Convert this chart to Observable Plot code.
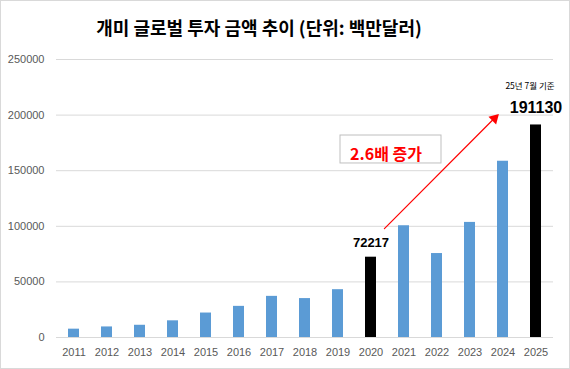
<!DOCTYPE html>
<html><head><meta charset="utf-8">
<script src="https://cdn.jsdelivr.net/npm/d3@7"></script>
<script src="https://cdn.jsdelivr.net/npm/@observablehq/plot@0.6"></script>
<style>
body{margin:0;background:#fff}
#wrap{position:relative;width:570px;height:369px;background:#fff;overflow:hidden}
#border{position:absolute;left:0;top:0;width:570px;height:369px;box-sizing:border-box;border:1px solid #d9d9d9;pointer-events:none}
#title{height:45px;box-sizing:border-box;padding-top:17px;padding-right:52px;line-height:21px;text-align:center;font-family:"Noto Sans CJK KR",sans-serif;font-weight:bold;font-size:18px;color:#000}
#chart svg{display:block}
</style></head>
<body>
<div id="wrap">
  <div id="title">개미 글로벌 투자 금액 추이 (단위: 백만달러)</div>
  <div id="chart"></div>
  <div id="border"></div>
</div>
<script>
const years = ["2011","2012","2013","2014","2015","2016","2017","2018","2019","2020","2021","2022","2023","2024","2025"];
const values = [7500, 9500, 11000, 15000, 22000, 28000, 37000, 35000, 43000, 72217, 100500, 75500, 103500, 158500, 191130];
const highlightYears = ["2020", "2025"];
const yTicks = [0, 50000, 100000, 150000, 200000, 250000];
const startYear = "2020", endYear = "2025", arrowEndYear = "2024";
const startValue = 72217, endValue = 191130;
const noteText = "25년 7월 기준";
const growthText = "2.6배 증가";

const data = years.map((year, i) => ({year, value: values[i]}));
const blue = data.filter(d => !highlightYears.includes(d.year));
const black = data.filter(d => highlightYears.includes(d.year));

const chart = Plot.plot({
  width: 570,
  height: 324,
  marginTop: 14,
  marginBottom: 32,
  marginLeft: 56,
  marginRight: 17,
  style: {fontFamily: "'Liberation Sans', sans-serif", fontSize: "11px", color: "#595959", background: "transparent"},
  x: {domain: years, paddingInner: 0.67, paddingOuter: 0.335, label: null},
  y: {domain: [0, 250000], label: null},
  marks: [
    Plot.gridY({ticks: yTicks, stroke: "#d9d9d9", strokeOpacity: 1, strokeWidth: 1}),
    Plot.axisY({ticks: yTicks, tickFormat: d3.format("d"), tickSize: 0, tickPadding: 12, fontSize: 11, label: null}),
    Plot.axisX({tickSize: 0, tickPadding: 11, fontSize: 11, label: null}),
    Plot.barY(blue, {x: "year", y: "value", fill: "#5b9bd5"}),
    Plot.barY(black, {x: "year", y: "value", fill: "#000000"}),
    // annotation box
    Plot.barY([{year: startYear}], {x: "year", y1: 156500, y2: 181650, fill: "white", stroke: "#bfbfbf", strokeWidth: 1, insetLeft: -25, insetRight: -65}),
    Plot.text([growthText], {x: [startYear], y: [164300], text: d => d, dx: 15, fill: "#ff0000", fontWeight: "bold", fontSize: 16, fontFamily: "'Noto Sans CJK KR', sans-serif"}),
    // arrow
    Plot.arrow([0], {x1: [startYear], y1: [85800], x2: [arrowEndYear], y2: [204900], stroke: "#ff0000", strokeWidth: 1.2, headLength: 0, insetStart: 19, insetEnd: 9}),
    Plot.dot([0], {x: [arrowEndYear], y: [197000], dx: -8.5, symbol: "triangle", r: 4, rotate: 45, fill: "#ff0000", stroke: "none"}),
    // value labels
    Plot.text([startValue], {x: [startYear], y: [startValue], text: d => String(d), dy: -14, fill: "#000", fontWeight: "bold", fontSize: 13}),
    Plot.text([endValue], {x: [endYear], y: [endValue], text: d => String(d), dy: -17, fill: "#000", fontWeight: "bold", fontSize: 16}),
    Plot.text([noteText], {x: [endYear], y: [endValue], text: d => d, dx: -6, dy: -39, fill: "#000", fontSize: 8.5, fontFamily: "'Noto Sans CJK KR', sans-serif"})
  ]
});
document.getElementById("chart").appendChild(chart);
</script>
</body></html>
